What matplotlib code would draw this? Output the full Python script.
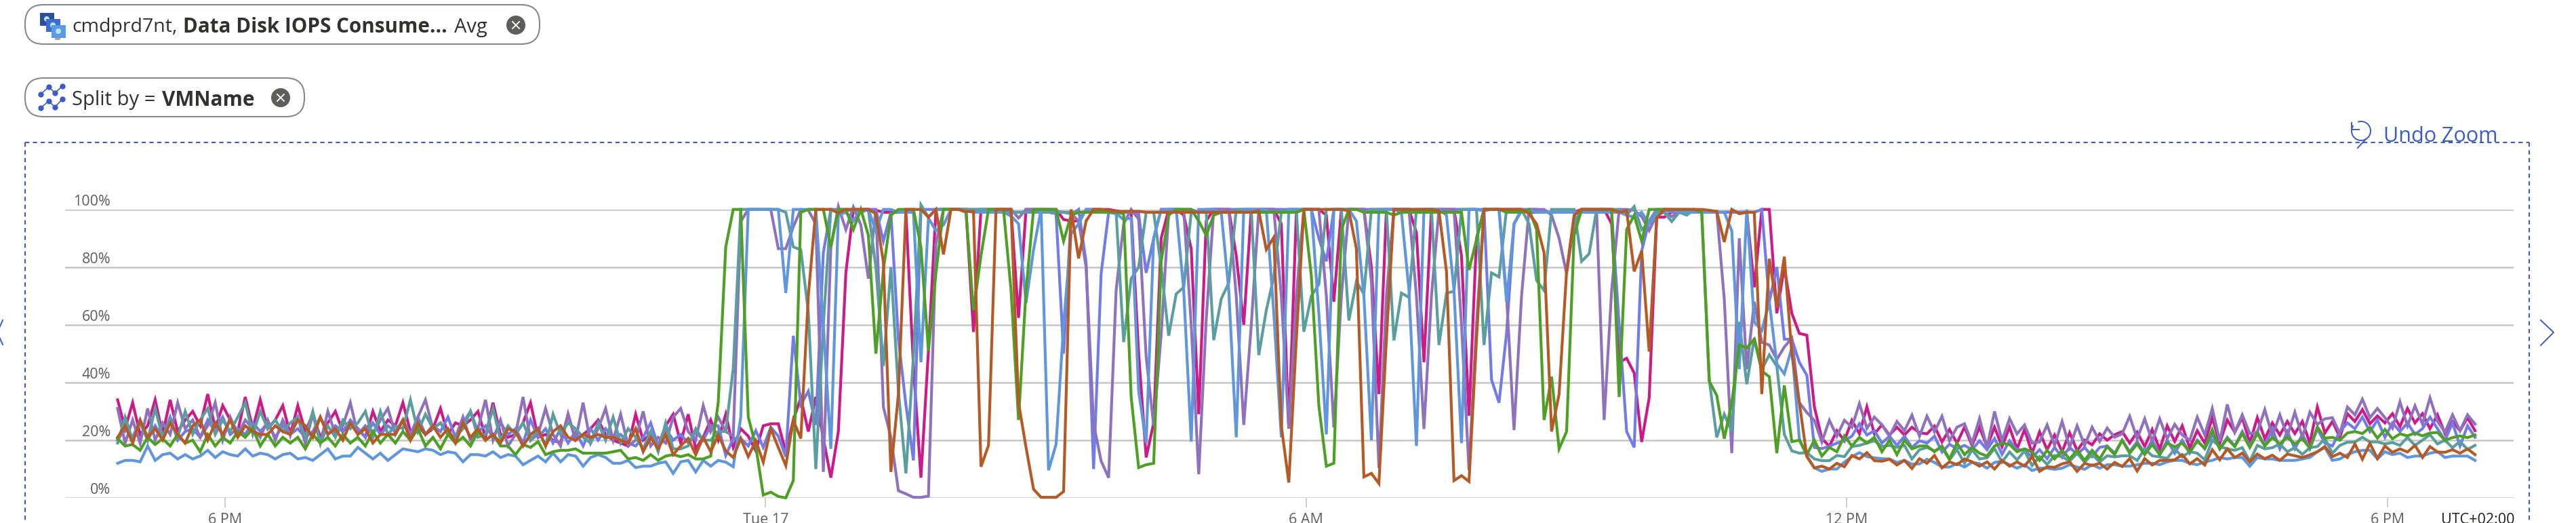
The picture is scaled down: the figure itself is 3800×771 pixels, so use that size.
import matplotlib
matplotlib.use('Agg')
import matplotlib.pyplot as plt
import numpy as np
from matplotlib.patches import FancyBboxPatch, Circle, Rectangle, Arc

plt.rcParams['font.family'] = ['Open Sans', 'DejaVu Sans']

# one reading every 5 minutes, ten values per row
magenta = [
    34,24,33,22,25,34,22,34,23,27,
    30,25,36,24,32,27,23,35,24,34,
    24,27,32,22,32,23,29,21,26,30,
    23,26,24,21,30,23,27,25,33,23,
    25,22,24,31,22,26,25,27,30,21,
    33,22,21,22,26,33,21,22,20,19,
    29,20,22,24,27,22,20,19,18,29,
    20,22,18,25,29,19,29,17,21,27,
    20,29,17.5,24,21.4,16.3,25,25.7,25.7,16,
    27,34.7,23,35,20.6,7,23,78,100,100,
    100,99.7,99,99,99,99,45.7,7,51,100,
    100,100,100,100,57.5,100,100,100,100,100,
    62.4,100,100,100,100,100,96.5,96,96,100,
    100,100,100,99.5,99,99,50,14,26,90,
    100,100,98,86.4,29,96,100,100,100,84,
    60,100,100,100,100,95,24,99,100,100,
    100,98,68,100,100,100,100,80,36,100,
    100,100,100,92,47,100,100,100,100,84,
    28.5,90,100,100,100,100,100,100,99,99,
    99,99,99,99,99,100,100,100,100,95,
    47,48.4,43.3,19.4,34.7,97.3,97.3,99,99,99,
    99,99,99,99,99,99,99,99,73,100,
    100,64,80,64,57,56.4,31.6,20.6,17.9,23.3,
    19.8,26.9,22.2,31.6,22.2,25.3,21.8,24.5,21.8,24.5,
    22.6,22.2,24.9,19.4,23.7,19,24.5,18.2,24.5,17.8,
    24.5,17.8,24.5,17,23.7,15.5,22.9,16.7,21.8,16,
    22.6,16.4,20,18.4,22.2,20,21.9,23,19,22.8,
    17.8,23.7,16.8,25,19.6,25,17.3,23.3,19,27.8,
    19,27,22.8,27.8,19,27.8,20.5,26,21.8,26.5,
    22.3,26.5,19,31.5,22.5,26.5,21,29.2,26.5,30.6,
    25.7,28.4,26,29.2,24.7,31,26,29.2,24,28.8,
    22.3,26.5,23.3,27.8,23.3]

periwinkle = [
    20,24,21,27,20,25,21,28,20,23,
    24,21,27,23,28,22,24,22,26,23,
    26,21,25,22,24,21,23,28,22,25,
    23,27,24,21,26,22,25,23,27,22,
    28,22,25,23,28,21,26,30,23,25,
    21,26,22,24,19,27,21,24,19,24,
    19,23,18,24,20,24,21,22,19,18,
    21,26,18,24,20,22,19,23,20,25,
    25,14.7,20.6,20.6,18,23.3,17.5,24.5,21.4,14.3,
    56.2,32.3,37,25.3,85,100,100,100,100,99,
    100,100,89,99,55,32.3,13,100,100,100,
    100,100,100,100,99,99,99,99,99,99,
    99,99,99,99,99,98.5,50,98,100,81.7,
    10,77.7,99,99,99,99,98.5,78,90,100,
    100,100,100,100,99,100,100,100,100,100,
    100,100,100,100,100,100,100,100,100,100,
    90,82,100,100,100,100,100,100,100,100,
    100,100,100,100,100,100,100,100,100,100,
    100,100,100,41,33,57,95,100,100,100,
    99,99,99,99,99,99,99,99,99,99,
    60,23,17.5,85.6,96,100,100,99,99,99,
    99,99,99,99,99,99,99,99,99,100,
    68,80,55,55,47,42.5,17.5,17.1,17.9,19,
    19.8,21.4,25.7,21.8,23.3,19,21.4,18.2,21.4,17.5,
    19.8,19,21.4,15.9,18.6,17.1,18.2,16.7,19.8,16.7,
    20.6,15.1,19.8,16.7,16.7,14,16.7,13.6,17.5,14,
    17.5,15.1,17.5,14.3,17.5,18,15.5,20,16,19.5,
    15.5,20,15,20,15.5,20,15.5,20,17,22,
    17,21,18,23,18,23,18,24,17,23,
    17,22,17,24,19,18,23,26,24,28,
    23,27,21,26,23,26,22,24,28,24,
    20,26,18,25,21]

purple = [
    31,19,27,19,31,20,26,22,33,24,
    27,21,25,33,20,28,22,27,24,21,
    27,20,27,22,28,19,29,19,30,22,
    25,33,22,25,22,27,31,22,27,21,
    28,34,24,26,22,21,28,20,24,34,
    20,27,18,22,35,20,22,31,22,18,
    29,20,33,19,24,31,20,29,18,20,
    30,18,21,19,28,31,23,20,32,23,
    28,23,21.4,95.8,100,100,100,100,86.4,86.4,
    94,100,99.7,95,9,87,101,93,100.8,94.6,
    76,100,31.5,21,2.5,1.4,0.2,0.2,0.6,88,
    100,100,100,100,100,100,100,100,100,100,
    97,100,100,100,100,99.3,99,98.5,96,80,
    25.7,12.8,7,72,95,100,96.6,48.8,25,56.6,
    99,100,100,60,8.2,62,100,100,100,70,
    25.3,60,100,100,100,70,24,70,100,100,
    100,70,24.4,70,100,100,100,75,10.4,70,
    100,100,100,70,23.9,70,100,100,100,60,
    9.6,60,100,100,100,70,23.5,70,100,100,
    100,98,90,77.7,95,100,100,99,27,72,
    100,100,99.7,97.5,92.7,98.2,99,97.5,99,98.5,
    99.7,99.7,99.5,99.3,69,15.5,90,44.6,68,53.9,
    53,48,52.3,55.4,33,29.6,26.9,19.4,26.9,21.4,
    26.9,24.5,32.7,24.1,28,25.3,21.4,26.5,23.3,28.7,
    21.4,28.3,22.9,28.3,19.8,24.5,25.7,19,27.5,17.5,
    30,19.8,27.5,22.2,25.3,19,19.4,25.3,18.2,26.5,
    17.5,25,18.2,24.5,19.6,24.2,21,22.2,28.3,20.5,
    27.4,19.6,27.4,20.5,25.5,21.8,20,28,21.8,31,
    19.6,32.4,22.8,28.8,22.3,22.8,30.6,21.4,28.8,21.4,
    29.7,21,29.7,25.5,27.4,27.8,22.3,31.5,28.8,34.2,
    27.8,31,27.8,24.2,33.3,25,31.9,25.6,34.7,26.5,
    22.8,28.8,23.3,28.8,25.6]

teal = [
    19,28,20,26,20,31,21,27,21,30,
    22,27,31,22,27,23,28,33,22,30,
    24,27,23,26,28,21,30,19,25,21,
    27,24,26,30,21,30,22,25,24,34,
    23,29,24,26,22,21,24,30,21,22,
    31,20,25,22,26,20,24,18,29,22,
    26,24,21,19,26,20,28,19,24,21,
    17,23,16,26,17,17,18,24,20,20,
    23,23,45,100,100,100,100,100,100,99,
    87,86,64.5,10,60,100,99.7,99.7,99.7,99.7,
    99.7,80,45.7,80,37,8.5,49,101.6,97.3,100,
    100,100,100,100,100,100,100,99.5,99,99,
    99,99,99,99,99,99,99,99,99,99,
    99,99,99,99,54,76,80,99,99,80,
    56.2,70.7,73,99,99,99,54.7,69,74.5,100,
    100,100,49.5,65,76.6,99,100,100,57.6,70,
    74,100,100,100,61.5,75,70.7,100,100,100,
    54.6,71,69.5,100,100,100,53,71,71.6,100,
    100,100,53,78,76.6,100,100,100,95,75.4,
    71.9,100,100,100,100,82,84.6,100,100,100,
    100,98,101,93,95.5,99,99,95.8,99,98,
    100,99,41,21,29,23,61,39.4,55.4,44.5,
    49.6,45.7,22,16.3,15.5,15.7,13.5,12.9,12.9,14.7,
    14.3,17.8,18.2,19,19.8,17.8,18.2,17.5,18.2,13.5,
    16.7,17.5,16.3,17.5,13.2,16.7,12,16.7,13.5,13.9,
    17.1,12.4,15.9,13.2,16.3,11.2,14.3,11.6,14.7,14.3,
    12.7,15.5,12.4,15.1,12.4,14.6,14.2,14.6,14.6,13,
    17,14.6,14.2,13.7,17,14.2,16,15.5,13.2,20,
    17.8,17,16.5,17.4,12.7,18.2,17,17.4,18.7,16,
    17.4,15.1,17.4,17.8,20.5,15.5,18.2,19.3,19.4,21,
    19.4,19.4,18.7,19.2,18.2,21,18.2,20,21.9,18.7,
    20,17.4,19.6,16.8,18.2]

blue = [
    12,13,13,12.5,18,13,15,15.5,13.5,15,
    13.5,14.5,16.5,14,16,15,14.5,17,14.5,15.5,
    15,13.5,15,15.5,13.5,14,13,15,17,13.5,
    14.5,14.5,17.5,15.5,13.5,15.5,13,15,17,16.5,
    16,17,16.5,15,16,15.5,12.5,15,15,14.5,
    16,14,15,14.5,11.5,13,14.5,12.5,15.5,12.5,
    15,14.5,11,14,15,14,12,12,13,10.5,
    11,11,12,12.5,8.5,12.5,13,9,13,11,
    13,12.4,10.8,28,100,100,100,100,100,71,
    100,100,100,100,60,17,98,99,96,100,
    100,92.6,100,100,99,99,99,47,97,92.6,
    94.6,100,100,99.5,99,99,99,99,99,97.7,
    95,67.6,86,100,9.6,18.6,60,91.5,95,100,
    100,100,99,98.5,96.5,97,37,19,90,100,
    100,100,72,19.5,100,100,100,99,72,21,
    100,100,100,100,64,21,100,100,100,100,
    64,22,100,100,100,96,70,20,100,100,
    100,99,72,18,100,100,100,98,72,19,
    100,100,99.5,100,100,68,95,99.5,99.5,99,
    99,99,99,99,99,99,99,99,99,99,
    99,98,97.3,99,95,98,100,100,99,99,
    99,99,99,99,99,92.6,44.6,100,61,58,
    68,46.5,43,52,20.5,14.5,10.4,9.2,10,10,
    12.4,14.3,15.7,14.3,13.9,13.6,13.5,12.3,13,11.7,
    11.8,13.4,12.3,10.7,10.7,11.9,10.7,12.3,11.9,10.3,
    12.3,12.7,11.5,10.3,11.5,9.5,10.3,10.3,9.9,10.3,
    11.5,10.7,9.9,11.5,10.3,11.5,11.5,11,11,11.5,
    12,12,11.5,12.5,13,13,12,11.5,12.5,13,
    14,13.5,14,14,11,14,13.5,13.5,13,13,
    13,13.5,14,16,17.5,13,13.5,15,16,16.5,
    16.5,13.5,16,15,15.5,14,14.5,14.5,15.5,16,
    14,14.5,14.5,14.5,13]

green = [
    20.5,18,18.5,16.5,21,18.5,20.5,18,22,19,
    20,16,22,18,21,19,23,21,24,18,
    22,18,21,19,21,17,22,19,21,18,
    22,19,21,18,23,19,22,19,23,20,
    24,18,21,17,22,19,21,18,23,20,
    22,18,18,15,18.5,17.5,19.5,15,16,16.5,
    16.5,17,15.5,15.5,15.5,15.5,16,16.5,13.5,14,
    13,15,13,14.5,15,14.3,15,13.5,13.5,14.5,
    33,87,100,100,28,18,1,2,0.5,0,
    6,99,100,100,100,87,100,100,93,100,
    91,50,79,98,100,100,100,87,51,78,
    100,100,100,99,65,84,100,100,100,72,
    27,72,100,100,100,100,89,98,99,99,
    99,99,99,99,98.5,35,10.5,11.5,12,82,
    98,100,100,100,96,91,98,99,99,99,
    99,99,99,99,99,99,99,99,100,77,
    32,11,12,93,100,100,99,99,99,99,
    98,99,99,99,99,99,99,99,99,99,
    79,89.5,100,100,100,99,99,99,100,93,
    27,42,17,23,91,100,100,100,100,100,
    35,93,98,89,100,100,100,100,100,100,
    100,99,40.5,35.5,20.5,33,53,52,55,44,
    42,15.5,39,19.5,20,15,20,14.5,17.5,16,
    21.5,18,21,19,21,16,20,15,20,17,
    18,18,16,18,13.5,19,15,17.5,15.5,14.5,
    18,19,18.5,16,17,16,13,16.5,13.5,16.5,
    13.5,16.5,13,16.5,13.5,17.8,15,20,15.5,18.7,
    15,18.5,15,19,17.7,19,16,19.6,17.3,23.7,
    17,20.5,17.8,22.3,17.5,22.3,18,21,18.7,21,
    18.7,20.5,17.3,24.6,20.7,21,20,22.5,23,22.3,
    24.4,20.7,23.7,20.5,22.2,21.5,22.5,21.5,22.5,22.7,
    20,20.9,21.5,20.9,21.8]

brown = [
    21,25,19,27,21,24,20,26,22,19,
    25,27,20,26,22,27,21,25,23,22,
    22,25,23,22,27,25,21,28,22,24,
    20,26,22,24,19,22,22,22,27,20,
    26,22,25,21,24,19,26,21,24,20,
    22,19,24,23,18,22,24,18,23,25,
    21,20,22,21,22,21,21,20,19,24,
    16,21,17,22,15,18,20.6,15,21,16,
    21.8,16.3,14,20.6,14.3,19.8,12.4,24,17.5,11.2,
    26.9,20.6,70,100,100,100,98.7,100,100,100,
    100,98.5,81.7,9,36,100,100,100,97.3,100,
    84.4,100,100,99.3,99.3,10.8,18.2,100,100,100,
    33,17.5,3,0.2,0.2,0.2,2.2,100,83,96,
    100,100,99.7,99.3,99.3,99.3,99.3,99,99,99,
    99,99,99,99,99,99,99,99,99,99,
    99,99,99.5,86.1,90.3,25,5.3,55,100,100,
    100,100,100,100,99.5,86.4,7.3,8.5,5,55,
    100,100,100,100,100,100,99.5,78.5,6,7.7,
    5.7,55,100,100,100,100,100,100,98.5,95,
    85,23,36,78.5,98,100,100,100,100,100,
    99,99.5,78.5,85.6,50.7,97,100,100,100,100,
    100,100,99.7,99.3,88.7,100,98.5,99,99,36,
    82.9,66,83.6,50,33,14.3,10.4,11,10,12,
    10.8,14.7,13.5,15.7,12.9,12.7,13.4,11.4,13,10.2,
    13.6,12,14.7,10.4,12.5,11.5,13.5,12.5,11,12.5,
    10,13,11,12.5,11,14.3,9.2,10.8,10.6,11.8,
    12.5,9.2,12,11.2,12,10,12.3,10.9,13.6,9.3,
    13.6,11.4,13,13,13.2,15,11.8,13.6,11.4,16.7,
    13.2,17,14,15.5,12.5,15.2,13.6,14.8,13,15.2,
    14.6,14,14.9,16,17.8,14.3,15.5,14,18.7,13.4,
    18.9,13.7,18,15.8,17,15.9,18.2,14,17.8,15.9,
    15.8,16.7,15.5,17,15]

series_colors = {'#cc1a88': magenta, '#717ce8': periwinkle, '#8e72be': purple,
                 '#5a9ea0': teal, '#5f96dc': blue, '#4ea024': green, '#b55a25': brown}
y_ticks = [0, 20, 40, 60, 80, 100]
x_ticks = [18, 24, 30, 36, 42]
x_labels = ['6 PM', 'Tue 17', '6 AM', '12 PM', '6 PM']

W, H = 3800, 771
fig = plt.figure(figsize=(W/100, H/100), dpi=100, facecolor='white')

def hour_of(px):
    return 18 + (px - 332) / 132.9

# chart area, hours on x
ax = fig.add_axes([96/W, 1-734/H, (3708-96)/W, (734-308.7)/H])
ax.set_xlim(hour_of(96), hour_of(3708))
ax.set_ylim(0, 100)
for s in ax.spines.values():
    s.set_visible(False)
ax.set_yticks(y_ticks)
ax.set_yticklabels([])
ax.tick_params(axis='y', length=0)
ax.set_xticks(x_ticks)
ax.set_xticklabels([])
ax.tick_params(axis='x', length=10, width=1.2, color='#c8c6c4')
ax.grid(axis='y', color='#c8c6c4', lw=1.8)
ax.set_axisbelow(True)

for color, vals in series_colors.items():
    hours = hour_of(173.5) + np.arange(len(vals)) * 5 / 60
    ax.plot(hours, vals, color=color, lw=3, clip_on=False, solid_joinstyle='miter')

for v in y_ticks:
    ax.annotate(f'{v}%', xy=(hour_of(163), v), xytext=(0, 4), textcoords='offset points',
                ha='right', va='baseline', fontsize=15.5, color='#605e5c')
for t, lab in zip(x_ticks, x_labels):
    ax.annotate(lab, xy=(t, 0), xytext=(0, -27.4), textcoords='offset points',
                ha='center', va='baseline', fontsize=15.5, color='#605e5c', annotation_clip=False)

# page furniture drawn in pixel coordinates
ov = fig.add_axes([0, 0, 1, 1], facecolor='none')
ov.set_xlim(0, W)
ov.set_ylim(H, 0)
ov.axis('off')

link = '#3a5bc8'
for x0, y0, x1, y1 in [(37, 210, 3731, 210), (37, 210, 37, 771), (3731, 210, 3731, 771)]:
    ov.plot([x0, x1], [y0, y1], color=link, lw=1.5, dashes=(3, 2.5))

for x0, x1, y0, y1 in [(37, 796, 7, 65), (37, 449, 115, 172)]:
    ov.add_patch(FancyBboxPatch((x0+27, y0+27), x1-x0-54, y1-y0-54, boxstyle='round,pad=27,rounding_size=27',
                                fc='white', ec='#8a8886', lw=1.5))

ov.text(106, 37, 'cmdprd7nt,', fontsize=20.5, color='#323130', va='center_baseline')
ov.text(270, 37, 'Data Disk IOPS Consume...', fontsize=21.3, fontweight='bold', color='#323130', va='center_baseline')
ov.text(670, 37, 'Avg', fontsize=21, color='#323130', va='center_baseline')
ov.text(106, 144, 'Split by =', fontsize=21, color='#323130', va='center_baseline')
ov.text(239, 144, 'VMName', fontsize=21.5, fontweight='bold', color='#323130', va='center_baseline')

for cx, cy in [(761, 37), (414, 144)]:
    ov.add_patch(Circle((cx, cy), 14, fc='#605e5c', ec='none'))
    ov.plot([cx-5, cx+5], [cy-5, cy+5], color='white', lw=1.3)
    ov.plot([cx-5, cx+5], [cy+5, cy-5], color='white', lw=1.3)

# stacked vm icon
for x, y, c in [(59, 19, '#2b4f9e'), (68, 28, '#3a6fd0'), (76, 37, '#5a9be8')]:
    ov.add_patch(Rectangle((x, y), 21, 19, fc=c, ec='none'))
    ov.add_patch(Circle((x+10, y+9), 4, fc='#bfe3f7', ec='none'))
ov.add_patch(Rectangle((81, 56), 8, 3, fc='#a8a8a8', ec='none'))

# split icon
split_x = [60, 72, 81, 92]
for yy, pts in [(0, [139, 128, 137, 127]), (19, [140, 130, 139, 127])]:
    ys = [p + yy for p in pts]
    ov.plot(split_x, ys, color=link, lw=1.2)
    ov.plot(split_x, ys, 'o', color=link, ms=5)

# undo icon and link
ov.add_patch(Arc((3483, 193), 28, 28, theta1=-110, theta2=215, color=link, lw=1.4))
ov.plot([3469, 3469, 3480], [181, 191, 191], color=link, lw=1.4)
ov.plot([3478, 3490], [218, 205], color=link, lw=1.4)
ov.text(3516, 201, 'Undo Zoom', fontsize=22, color=link, va='center')

ov.text(3601, 772, 'UTC+02:00', fontsize=15.5, color='#201f1e', va='baseline')

# paging chevrons
ov.plot([3748, 3767, 3748], [472, 490, 509], color=link, lw=1.4)
ov.plot([4, -4, 4], [472, 490, 508], color=link, lw=1.4)

fig.savefig('out.png', dpi=100)
